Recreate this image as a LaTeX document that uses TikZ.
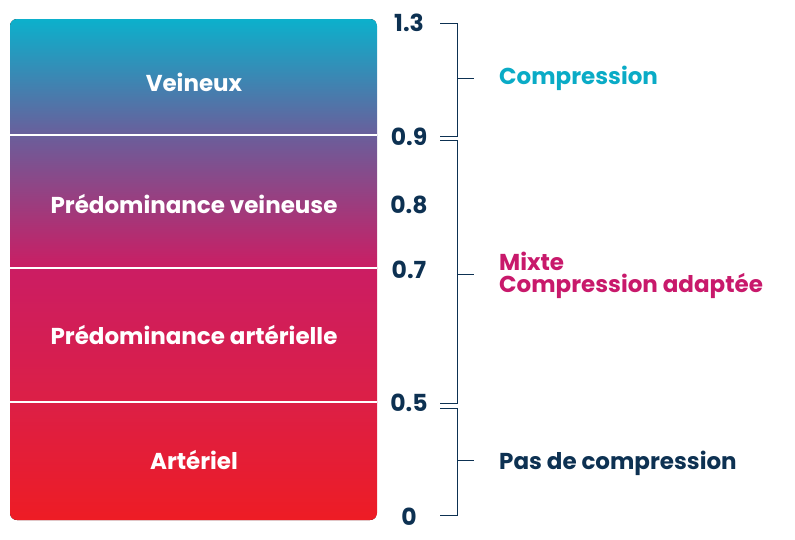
\documentclass[tikz,border=0pt]{standalone}
\usepackage{fontspec}
\setmainfont{Poppins}
\definecolor{navy}{HTML}{0D3152}
\definecolor{teal}{HTML}{0AABC6}
\definecolor{mag}{HTML}{C8196B}
\definecolor{cA}{HTML}{0BB1CC}
\definecolor{cB}{HTML}{6A5E9B}
\definecolor{cC}{HTML}{CB1D63}
\definecolor{cD}{HTML}{DC1F46}
\definecolor{cE}{HTML}{EE1C24}
\begin{document}
\begin{tikzpicture}[x=1pt,y=-1pt,
  bandtext/.style={text=white,font=\fontsize{23}{26}\selectfont\bfseries},
  scaletext/.style={text=navy,font=\fontsize{23.5}{26}\selectfont\bfseries},
  lbl/.style={anchor=west,font=\fontsize{23}{26}\selectfont\bfseries,align=left,inner sep=0pt},
  brk/.style={draw=navy,line width=1pt}]
\useasboundingbox (0,0) rectangle (795,539);
\begin{scope}
\clip[rounded corners=7pt] (10,19) rectangle (377,520);
\fill[top color=cA,bottom color=cB] (10,18) rectangle (377,135.5);
\fill[top color=cB,bottom color=cC] (10,135) rectangle (377,268.5);
\fill[top color=cC,bottom color=cD] (10,268) rectangle (377,402.5);
\fill[top color=cD,bottom color=cE] (10,402) rectangle (377,521);
\end{scope}
\draw[white,line width=1.4pt] (10,135) -- (377,135);
\draw[white,line width=1.4pt] (10,268) -- (377,268);
\draw[white,line width=1.4pt] (10,402) -- (377,402);
\node[bandtext] (b1) at (194,82) {Veineux};
\node[bandtext] (b2) at (194,204) {Prédominance veineuse};
\node[bandtext] (b3) at (194,335) {Prédominance artérielle};
\node[bandtext] (b4) at (194,460) {Artériel};
\node[scaletext] (v13) at (409,23) {1.3};
\node[scaletext] (v09) at (409,137) {0.9};
\node[scaletext] (v08) at (409,205) {0.8};
\node[scaletext] (v07) at (409,270) {0.7};
\node[scaletext] (v05) at (409,403) {0.5};
\node[scaletext] (v00) at (409,517) {0};
\draw[brk] (440,23.3) -- (457,23.3) -- (457,136) -- (440,136);
\draw[brk] (457,78) -- (474,78);
\draw[brk] (440,140.7) -- (457,140.7) -- (457,403.3) -- (440,403.3);
\draw[brk] (457,274) -- (474,274);
\draw[brk] (440,408) -- (457,408) -- (457,515) -- (440,515);
\draw[brk] (457,460) -- (474,460);
\node[lbl,text=teal] (l1) at (499,78) {Compression};
\node[lbl,text=mag] (l2a) at (499,261) {Mixte};
\node[lbl,text=mag] (l2b) at (499,286) {Compression adaptée};
\node[lbl,text=navy] (l3) at (499,463) {Pas de compression};
\end{tikzpicture}
\end{document}
